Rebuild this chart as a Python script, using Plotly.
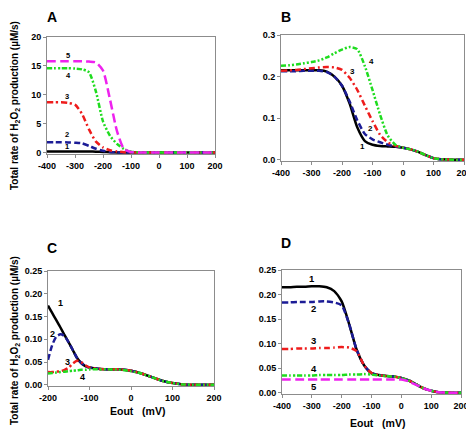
import plotly.graph_objects as go

# --- Daten ---
x_ab = [-400, -375, -350, -325, -300, -275, -250, -225, -200, -175, -150, -125, -100,
        -75, -50, -25, 0, 25, 50, 75, 100, 125, 150, 175, 200]

# Panel A
a1 = [0.2, 0.2, 0.2, 0.2, 0.2, 0.2, 0.19, 0.16, 0.11, 0.06, 0.03, 0.02, 0.01,
      0.01, 0.01, 0.01, 0.01, 0.01, 0, 0, 0, 0, 0, 0, 0]
a2 = [1.8, 1.8, 1.78, 1.75, 1.7, 1.6, 1.15, 0.65, 0.3, 0.1, 0.03, 0.02, 0.01,
      0.01, 0.01, 0.01, 0.01, 0, 0, 0, 0, 0, 0, 0, 0]
a3 = [8.7, 8.7, 8.7, 8.6, 8.3, 6.7, 4.0, 1.9, 0.9, 0.4, 0.2, 0.05, 0.03,
      0.02, 0.01, 0.01, 0.01, 0, 0, 0, 0, 0, 0, 0, 0]
a4 = [14.6, 14.6, 14.6, 14.6, 14.55, 14.4, 13.9, 10.5, 5.4, 2.9, 1.5, 0.6, 0.15,
      0.05, 0.02, 0.01, 0.01, 0, 0, 0, 0, 0, 0, 0, 0]
a5 = [15.8, 15.8, 15.8, 15.8, 15.8, 15.8, 15.75, 15.6, 14.2, 9.2, 3.7, 0.6, 0.1,
      0.03, 0.02, 0.01, 0.01, 0, 0, 0, 0, 0, 0, 0, 0]

# Panel B
b1 = [0.215, 0.215, 0.215, 0.215, 0.215, 0.215, 0.212, 0.2, 0.178, 0.135, 0.078, 0.045, 0.036,
      0.033, 0.032, 0.031, 0.029, 0.025, 0.019, 0.011, 0.004, 0.001, 0.0005, 0, 0]
b2 = [0.213, 0.213, 0.213, 0.214, 0.214, 0.214, 0.211, 0.2, 0.178, 0.14, 0.095, 0.062, 0.049,
      0.042, 0.036, 0.032, 0.029, 0.025, 0.019, 0.011, 0.004, 0.001, 0.0005, 0, 0]
b3 = [0.214, 0.215, 0.216, 0.218, 0.22, 0.222, 0.223, 0.222, 0.216, 0.197, 0.168, 0.13, 0.093,
      0.06, 0.042, 0.034, 0.029, 0.025, 0.019, 0.011, 0.004, 0.001, 0.0005, 0, 0]
b4 = [0.226, 0.227, 0.229, 0.232, 0.235, 0.239, 0.246, 0.256, 0.265, 0.271, 0.266, 0.225, 0.168,
      0.108, 0.058, 0.036, 0.029, 0.025, 0.019, 0.011, 0.004, 0.001, 0.0005, 0, 0]

# Panel C
x_c = [-200, -190, -180, -170, -160, -150, -140, -130, -120, -110, -100,
       -75, -50, -25, 0, 25, 50, 75, 100, 125, 150, 175, 200]
c1 = [0.174, 0.158, 0.142, 0.126, 0.109, 0.093, 0.076, 0.059, 0.048, 0.041, 0.038,
      0.035, 0.034, 0.034, 0.031, 0.025, 0.017, 0.009, 0.004, 0.001, 0.0003, 0, 0]
c2 = [0.055, 0.087, 0.106, 0.111, 0.107, 0.093, 0.076, 0.059, 0.048, 0.041, 0.038,
      0.035, 0.034, 0.034, 0.031, 0.025, 0.017, 0.009, 0.004, 0.001, 0.0003, 0, 0]
c3 = [0.028, 0.028, 0.029, 0.03, 0.033, 0.038, 0.047, 0.053, 0.05, 0.043, 0.038,
      0.035, 0.034, 0.034, 0.031, 0.025, 0.017, 0.009, 0.004, 0.001, 0.0003, 0, 0]
c4 = [0.025, 0.026, 0.027, 0.028, 0.029, 0.03, 0.031, 0.032, 0.033, 0.033, 0.034,
      0.034, 0.034, 0.033, 0.03, 0.025, 0.017, 0.009, 0.004, 0.001, 0.0003, 0, 0]

# Panel D
d1 = [0.215, 0.215, 0.216, 0.216, 0.217, 0.217, 0.215, 0.207, 0.186, 0.14, 0.088, 0.056, 0.04,
      0.036, 0.034, 0.033, 0.03, 0.025, 0.017, 0.009, 0.004, 0.001, 0.0003, 0, 0]
d2 = [0.184, 0.184, 0.185, 0.185, 0.185, 0.186, 0.186, 0.184, 0.178, 0.14, 0.088, 0.056, 0.04,
      0.036, 0.034, 0.033, 0.03, 0.025, 0.017, 0.009, 0.004, 0.001, 0.0003, 0, 0]
d3 = [0.089, 0.089, 0.09, 0.09, 0.09, 0.091, 0.091, 0.092, 0.093, 0.092, 0.085, 0.056, 0.04,
      0.036, 0.034, 0.033, 0.03, 0.025, 0.017, 0.009, 0.004, 0.001, 0.0003, 0, 0]
d4 = [0.035, 0.035, 0.035, 0.035, 0.035, 0.036, 0.036, 0.036, 0.036, 0.037, 0.037, 0.038, 0.037,
      0.035, 0.034, 0.033, 0.03, 0.025, 0.017, 0.009, 0.004, 0.001, 0.0003, 0, 0]
d5 = [0.027, 0.027, 0.027, 0.027, 0.027, 0.027, 0.027, 0.027, 0.027, 0.027, 0.027, 0.027, 0.027,
      0.027, 0.027, 0.027, 0.027, 0.023, 0.016, 0.009, 0.004, 0.001, 0.0003, 0, 0]

kurven_nr = ["1", "2", "3", "4", "5"]

# Beschriftungen der Kurven (Datenkoordinaten)
lab_a = [(-329, 1.0), (-329, 3.1), (-329, 9.7), (-325, 13.3), (-325, 16.75)]
lab_b = [(-134, 0.031), (-108, 0.076), (-167, 0.212), (-102, 0.236)]
lab_c = [(-169, 0.18), (-188, 0.111), (-154, 0.05), (-118, 0.017)]
lab_d = [(-299, 0.232), (-296, 0.171), (-293, 0.107), (-293, 0.05), (-293, 0.012)]

x_ticks_long = [-400, -300, -200, -100, 0, 100, 200]
x_ticks_short = [-200, -100, 0, 100, 200]

# Linienstile 1..5
farben = ["#000000", "#1c1c96", "#ee1c1c", "#1fdc1f", "#ee22ee"]
striche = ["solid", "6px,3px", "6px,3px,2px,3px", "5px,2px,2px,2px,2px,2px", "9px,4px"]

W, H = 474, 434
OFF = 8  # Seitenrand des Browsers (body margin)
FONT = "Arial, Liberation Sans, sans-serif"

fig = go.Figure()


def add_panel(n, xs, serien):
    for i, ys in enumerate(serien):
        fig.add_trace(go.Scatter(
            x=xs, y=ys, mode="lines", showlegend=False,
            line=dict(color=farben[i], dash=striche[i], width=2.5,
                      shape="spline", smoothing=0.6),
            xaxis="x" + ("" if n == 1 else str(n)),
            yaxis="y" + ("" if n == 1 else str(n)),
        ))


add_panel(1, x_ab, [a1, a2, a3, a4, a5])
add_panel(2, x_ab, [b1, b2, b3, b4])
add_panel(3, x_c, [c1, c2, c3, c4])
add_panel(4, x_ab, [d1, d2, d3, d4, d5])


def px_x(p):
    return (p - OFF) / W


def px_y(p):
    return 1 - (p - OFF) / H


achse = dict(showgrid=False, zeroline=False, showline=True, mirror=True, automargin=False,
             linecolor="#8c8c8c", linewidth=1, ticks="outside", ticklen=3,
             tickcolor="#8c8c8c", tickfont=dict(family=FONT, size=9, color="black", weight="bold"))

ticktxt = lambda vals: [str(v) for v in vals]

fig.update_layout(
    width=W, height=H, margin=dict(l=0, r=0, t=0, b=0),
    paper_bgcolor="white", plot_bgcolor="white",
    xaxis=dict(achse, domain=[px_x(47), px_x(215)], range=[-400, 200], anchor="y",
               tickvals=x_ticks_long, ticktext=ticktxt(x_ticks_long)),
    yaxis=dict(achse, domain=[px_y(154), px_y(37)], range=[-0.25, 20], anchor="x",
               tickvals=[0, 5, 10, 15, 20]),
    xaxis2=dict(achse, domain=[px_x(281), px_x(464)], range=[-400, 200], anchor="y2",
                tickvals=x_ticks_long, ticktext=ticktxt(x_ticks_long)),
    yaxis2=dict(achse, domain=[px_y(161), px_y(35)], range=[-0.003, 0.3], anchor="x2",
                tickvals=[0, 0.1, 0.2, 0.3], tickformat=".1f"),
    xaxis3=dict(achse, domain=[px_x(48), px_x(214)], range=[-200, 200], anchor="y3",
                tickvals=x_ticks_short, ticktext=ticktxt(x_ticks_short)),
    yaxis3=dict(achse, domain=[px_y(386), px_y(271)], range=[-0.0025, 0.25], anchor="x3",
                tickvals=[0, 0.05, 0.1, 0.15, 0.2, 0.25], tickformat=".2f"),
    xaxis4=dict(achse, domain=[px_x(282), px_x(461)], range=[-400, 200], anchor="y4",
                tickvals=x_ticks_long, ticktext=ticktxt(x_ticks_long)),
    yaxis4=dict(achse, domain=[px_y(394), px_y(270)], range=[-0.0025, 0.25], anchor="x4",
                tickvals=[0, 0.05, 0.1, 0.15, 0.2, 0.25], tickformat=".2f"),
)

anns = []
mitte = dict(xanchor="center", yanchor="middle", showarrow=False)
# Panelbuchstaben (B etwas tiefer, damit es nicht oben abgeschnitten wird)
for txt, x, y in [("A", 52, 17), ("B", 286, 17), ("C", 52, 248), ("D", 286, 243)]:
    anns.append(dict(mitte, text=txt, x=px_x(x), y=px_y(y), xref="paper", yref="paper",
                     font=dict(family=FONT, size=14, color="black", weight="bold")))

# y-Achsentitel
ytitel = "Total rate of H<sub>2</sub>O<sub>2</sub> production (\u00b5M/s)"
for y in [106, 341]:
    anns.append(dict(mitte, text=ytitel, x=px_x(15), y=px_y(y), xref="paper", yref="paper",
                     textangle=-90,
                     font=dict(family=FONT, size=10, color="black", weight="bold")))

# x-Achsentitel
for x, y in [(137, 411), (377, 423)]:
    anns.append(dict(mitte, text="Eout\u00a0\u00a0 (mV)", x=px_x(x), y=px_y(y),
                     xref="paper", yref="paper",
                     font=dict(family=FONT, size=10.5, color="black", weight="bold")))

# Kurvennummern
for n, labs, size in [(1, lab_a, 7.5), (2, lab_b, 8), (3, lab_c, 9), (4, lab_d, 9.5)]:
    suf = "" if n == 1 else str(n)
    for i, (lx, ly) in enumerate(labs):
        anns.append(dict(mitte, text=kurven_nr[i], x=lx, y=ly, xref="x" + suf, yref="y" + suf,
                         font=dict(family=FONT, size=size, color="black", weight="bold")))

fig.update_layout(annotations=anns)

fig.write_html("out.html")
